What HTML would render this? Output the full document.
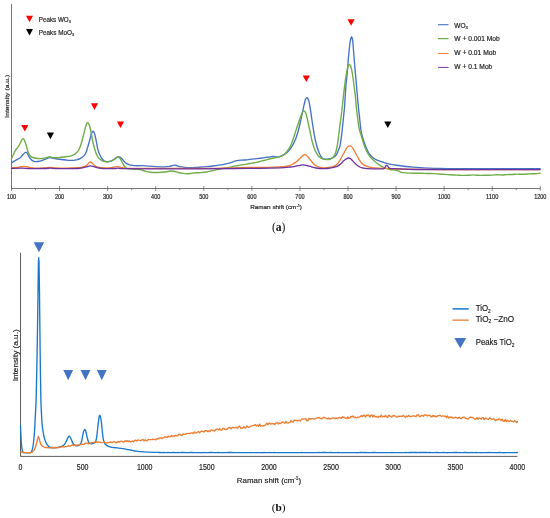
<!DOCTYPE html>
<html lang="en"><head><meta charset="utf-8"><title>Raman spectra</title>
<style>html,body{margin:0;padding:0;background:#fff}svg{display:block}text{font-family:"Liberation Sans",sans-serif;fill:#222222;stroke:#222222;stroke-width:0.18px}.cap{font-family:"Liberation Serif",serif;fill:#111;stroke:none}.ln{fill:none;stroke-linejoin:round;stroke-linecap:round}</style></head><body>
<svg width="550" height="518" viewBox="0 0 550 518">
<rect width="550" height="518" fill="#fff"/>
<g id="chart-a">
<path d="M11.50 3.90V188.50H540.30" fill="none" stroke="#666666" stroke-width="0.9"/>
<path d="M11.50 186.10v4.70M35.54 188.50v1.60M59.57 186.10v4.70M83.61 188.50v1.60M107.65 186.10v4.70M131.68 188.50v1.60M155.72 186.10v4.70M179.75 188.50v1.60M203.79 186.10v4.70M227.83 188.50v1.60M251.86 186.10v4.70M275.90 188.50v1.60M299.94 186.10v4.70M323.97 188.50v1.60M348.01 186.10v4.70M372.05 188.50v1.60M396.08 186.10v4.70M420.12 188.50v1.60M444.15 186.10v4.70M468.19 188.50v1.60M492.23 186.10v4.70M516.26 188.50v1.60M540.30 186.10v4.70" fill="none" stroke="#666666" stroke-width="0.8"/>
<text x="11.50" y="198.8" font-size="6.4" text-anchor="middle" textLength="9.24" lengthAdjust="spacingAndGlyphs">100</text>
<text x="59.57" y="198.8" font-size="6.4" text-anchor="middle" textLength="9.24" lengthAdjust="spacingAndGlyphs">200</text>
<text x="107.65" y="198.8" font-size="6.4" text-anchor="middle" textLength="9.24" lengthAdjust="spacingAndGlyphs">300</text>
<text x="155.72" y="198.8" font-size="6.4" text-anchor="middle" textLength="9.24" lengthAdjust="spacingAndGlyphs">400</text>
<text x="203.79" y="198.8" font-size="6.4" text-anchor="middle" textLength="9.24" lengthAdjust="spacingAndGlyphs">500</text>
<text x="251.86" y="198.8" font-size="6.4" text-anchor="middle" textLength="9.24" lengthAdjust="spacingAndGlyphs">600</text>
<text x="299.94" y="198.8" font-size="6.4" text-anchor="middle" textLength="9.24" lengthAdjust="spacingAndGlyphs">700</text>
<text x="348.01" y="198.8" font-size="6.4" text-anchor="middle" textLength="9.24" lengthAdjust="spacingAndGlyphs">800</text>
<text x="396.08" y="198.8" font-size="6.4" text-anchor="middle" textLength="9.24" lengthAdjust="spacingAndGlyphs">900</text>
<text x="444.15" y="198.8" font-size="6.4" text-anchor="middle" textLength="12.32" lengthAdjust="spacingAndGlyphs">1000</text>
<text x="492.23" y="198.8" font-size="6.4" text-anchor="middle" textLength="12.32" lengthAdjust="spacingAndGlyphs">1100</text>
<text x="540.30" y="198.8" font-size="6.4" text-anchor="middle" textLength="12.32" lengthAdjust="spacingAndGlyphs">1200</text>
<text x="276.1" y="208.9" font-size="6.2" text-anchor="middle" textLength="51.8" lengthAdjust="spacingAndGlyphs">Raman shift (cm<tspan font-size="3.8" dy="-2.2">-1</tspan><tspan dy="2.2">)</tspan></text>
<text transform="translate(8.6 117.7) rotate(-90)" font-size="5.6" textLength="42.9" lengthAdjust="spacingAndGlyphs">Intensity  (a.u.)</text>
<path class="ln" d="M11.50 162.90C12.18 162.47 14.27 161.07 15.60 160.30C16.93 159.53 18.52 158.95 19.50 158.30C20.48 157.65 20.87 157.08 21.50 156.40C22.13 155.72 22.73 154.80 23.30 154.20C23.87 153.60 24.42 153.12 24.90 152.80C25.38 152.48 25.80 152.20 26.20 152.30C26.60 152.40 26.93 152.87 27.30 153.40C27.67 153.93 27.97 154.73 28.40 155.50C28.83 156.27 29.38 157.27 29.90 158.00C30.42 158.73 30.70 159.30 31.50 159.90C32.30 160.50 33.32 161.38 34.70 161.60C36.08 161.82 38.10 161.58 39.80 161.20C41.50 160.82 43.20 159.88 44.90 159.30C46.60 158.72 48.73 157.88 50.00 157.70C51.27 157.52 51.65 158.05 52.50 158.20C53.35 158.35 53.60 158.38 55.10 158.60C56.60 158.82 59.17 159.22 61.50 159.50C63.83 159.78 67.18 160.15 69.10 160.30C71.02 160.45 71.77 160.47 73.00 160.40C74.23 160.33 75.10 160.33 76.50 159.90C77.90 159.47 80.07 158.60 81.40 157.80C82.73 157.00 83.70 156.07 84.50 155.10C85.30 154.13 85.70 153.22 86.20 152.00C86.70 150.78 87.03 149.33 87.50 147.80C87.97 146.27 88.52 144.50 89.00 142.80C89.48 141.10 90.00 139.10 90.40 137.60C90.80 136.10 91.08 134.77 91.40 133.80C91.72 132.83 92.02 132.22 92.30 131.80C92.58 131.38 92.80 131.20 93.10 131.30C93.40 131.40 93.77 131.68 94.10 132.40C94.43 133.12 94.70 133.93 95.10 135.60C95.50 137.27 96.03 140.07 96.50 142.40C96.97 144.73 97.35 147.53 97.90 149.60C98.45 151.67 99.15 153.32 99.80 154.80C100.45 156.28 101.10 157.50 101.80 158.50C102.50 159.50 103.15 160.25 104.00 160.80C104.85 161.35 105.90 161.70 106.90 161.80C107.90 161.90 108.93 161.73 110.00 161.40C111.07 161.07 112.30 160.40 113.30 159.80C114.30 159.20 115.15 158.30 116.00 157.80C116.85 157.30 117.67 156.87 118.40 156.80C119.13 156.73 119.77 157.03 120.40 157.40C121.03 157.77 121.60 158.37 122.20 159.00C122.80 159.63 123.37 160.52 124.00 161.20C124.63 161.88 125.17 162.53 126.00 163.10C126.83 163.67 127.93 164.22 129.00 164.60C130.07 164.98 131.23 165.22 132.40 165.40C133.57 165.58 134.73 165.65 136.00 165.70C137.27 165.75 138.33 165.68 140.00 165.70C141.67 165.72 143.42 165.63 146.00 165.80C148.58 165.97 152.33 166.53 155.50 166.70C158.67 166.87 162.58 166.87 165.00 166.80C167.42 166.73 168.42 166.57 170.00 166.30C171.58 166.03 173.33 165.30 174.50 165.20C175.67 165.10 176.15 165.45 177.00 165.70C177.85 165.95 178.27 166.42 179.60 166.70C180.93 166.98 183.10 167.23 185.00 167.40C186.90 167.57 188.83 167.72 191.00 167.70C193.17 167.68 195.43 167.47 198.00 167.30C200.57 167.13 203.90 166.92 206.40 166.70C208.90 166.48 210.90 166.25 213.00 166.00C215.10 165.75 217.17 165.48 219.00 165.20C220.83 164.92 222.28 164.65 224.00 164.30C225.72 163.95 227.80 163.52 229.30 163.10C230.80 162.68 231.73 162.22 233.00 161.80C234.27 161.38 235.40 160.88 236.90 160.60C238.40 160.32 240.32 160.23 242.00 160.10C243.68 159.97 245.33 159.95 247.00 159.80C248.67 159.65 250.28 159.40 252.00 159.20C253.72 159.00 255.63 158.80 257.30 158.60C258.97 158.40 260.55 158.20 262.00 158.00C263.45 157.80 264.63 157.60 266.00 157.40C267.37 157.20 269.03 156.95 270.20 156.80C271.37 156.65 272.12 156.48 273.00 156.50C273.88 156.52 274.67 156.80 275.50 156.90C276.33 157.00 277.17 157.20 278.00 157.10C278.83 157.00 279.67 156.63 280.50 156.30C281.33 155.97 282.17 155.55 283.00 155.10C283.83 154.65 284.62 154.22 285.50 153.60C286.38 152.98 287.35 152.38 288.30 151.40C289.25 150.42 290.32 149.02 291.20 147.70C292.08 146.38 292.80 145.12 293.60 143.50C294.40 141.88 295.23 140.08 296.00 138.00C296.77 135.92 297.48 133.58 298.20 131.00C298.92 128.42 299.70 125.08 300.30 122.50C300.90 119.92 301.32 117.77 301.80 115.50C302.28 113.23 302.77 110.90 303.20 108.90C303.63 106.90 304.02 105.10 304.40 103.50C304.78 101.90 305.18 100.22 305.50 99.30C305.82 98.38 306.05 98.27 306.30 98.00C306.55 97.73 306.73 97.60 307.00 97.70C307.27 97.80 307.58 98.02 307.90 98.60C308.22 99.18 308.57 99.92 308.90 101.20C309.23 102.48 309.57 104.37 309.90 106.30C310.23 108.23 310.55 110.47 310.90 112.80C311.25 115.13 311.62 117.73 312.00 120.30C312.38 122.87 312.80 125.70 313.20 128.20C313.60 130.70 313.98 133.05 314.40 135.30C314.82 137.55 315.25 139.75 315.70 141.70C316.15 143.65 316.62 145.38 317.10 147.00C317.58 148.62 318.12 150.12 318.60 151.40C319.08 152.68 319.52 153.73 320.00 154.70C320.48 155.67 321.00 156.55 321.50 157.20C322.00 157.85 322.45 158.28 323.00 158.60C323.55 158.92 323.88 159.05 324.80 159.10C325.72 159.15 327.28 159.07 328.50 158.90C329.72 158.73 331.15 158.42 332.10 158.10C333.05 157.78 333.55 157.48 334.20 157.00C334.85 156.52 335.53 155.77 336.00 155.20C336.47 154.63 336.68 154.23 337.00 153.60C337.32 152.97 337.57 152.22 337.90 151.40C338.23 150.58 338.65 149.67 339.00 148.70C339.35 147.73 339.65 147.22 340.00 145.60C340.35 143.98 340.73 141.60 341.10 139.00C341.47 136.40 341.83 133.25 342.20 130.00C342.57 126.75 342.92 123.30 343.30 119.50C343.68 115.70 344.18 111.03 344.50 107.20C344.82 103.37 344.97 100.03 345.20 96.50C345.43 92.97 345.67 88.92 345.90 86.00C346.13 83.08 346.37 81.25 346.60 79.00C346.83 76.75 347.08 74.92 347.30 72.50C347.52 70.08 347.70 67.08 347.90 64.50C348.10 61.92 348.28 59.42 348.50 57.00C348.72 54.58 348.97 52.25 349.20 50.00C349.43 47.75 349.65 45.33 349.90 43.50C350.15 41.67 350.42 40.15 350.70 39.00C350.98 37.85 351.32 36.60 351.60 36.60C351.88 36.60 352.17 37.85 352.40 39.00C352.63 40.15 352.82 41.58 353.00 43.50C353.18 45.42 353.30 47.92 353.50 50.50C353.70 53.08 353.98 56.33 354.20 59.00C354.42 61.67 354.58 63.93 354.80 66.50C355.02 69.07 355.25 71.65 355.50 74.40C355.75 77.15 356.05 80.10 356.30 83.00C356.55 85.90 356.75 88.88 357.00 91.80C357.25 94.72 357.53 97.62 357.80 100.50C358.07 103.38 358.35 106.65 358.60 109.10C358.85 111.55 359.08 113.27 359.30 115.20C359.52 117.13 359.63 118.23 359.90 120.70C360.17 123.17 360.45 127.20 360.90 130.00C361.35 132.80 361.98 135.23 362.60 137.50C363.22 139.77 363.87 141.58 364.60 143.60C365.33 145.62 366.23 147.93 367.00 149.60C367.77 151.27 368.28 152.33 369.20 153.60C370.12 154.87 371.28 156.15 372.50 157.20C373.72 158.25 375.17 159.22 376.50 159.90C377.83 160.58 379.13 160.80 380.50 161.30C381.87 161.80 383.45 162.50 384.70 162.90C385.95 163.30 386.72 163.42 388.00 163.70C389.28 163.98 390.62 164.30 392.40 164.60C394.18 164.90 396.43 165.18 398.70 165.50C400.97 165.82 403.57 166.22 406.00 166.50C408.43 166.78 410.97 167.00 413.30 167.20C415.63 167.40 417.58 167.55 420.00 167.70C422.42 167.85 424.80 167.97 427.80 168.10C430.80 168.23 434.60 168.40 438.00 168.50C441.40 168.60 442.87 168.66 448.20 168.70C453.53 168.74 461.37 168.75 470.00 168.75C478.63 168.75 488.32 168.72 500.00 168.70C511.68 168.67 533.42 168.62 540.10 168.60" stroke="#4472C4" stroke-width="1.35"/>
<path class="ln" d="M11.50 158.80C11.75 158.25 12.52 156.58 13.00 155.50C13.48 154.42 13.90 153.30 14.40 152.30C14.90 151.30 15.48 150.25 16.00 149.50C16.52 148.75 17.00 148.47 17.50 147.80C18.00 147.13 18.47 146.45 19.00 145.50C19.53 144.55 20.20 143.07 20.70 142.10C21.20 141.13 21.57 140.28 22.00 139.70C22.43 139.12 22.88 138.47 23.30 138.60C23.72 138.73 24.08 139.60 24.50 140.50C24.92 141.40 25.38 142.67 25.80 144.00C26.22 145.33 26.57 147.02 27.00 148.50C27.43 149.98 27.90 151.73 28.40 152.90C28.90 154.07 29.48 154.82 30.00 155.50C30.52 156.18 30.50 156.53 31.50 157.00C32.50 157.47 34.42 158.03 36.00 158.30C37.58 158.57 39.30 158.70 41.00 158.60C42.70 158.50 44.70 158.02 46.20 157.70C47.70 157.38 48.95 156.72 50.00 156.70C51.05 156.68 51.00 157.45 52.50 157.60C54.00 157.75 56.87 157.75 59.00 157.60C61.13 157.45 63.40 156.95 65.30 156.70C67.20 156.45 68.92 156.48 70.40 156.10C71.88 155.72 73.17 154.97 74.20 154.40C75.23 153.83 75.80 153.52 76.60 152.70C77.40 151.88 78.20 151.07 79.00 149.50C79.80 147.93 80.65 145.72 81.40 143.30C82.15 140.88 82.85 137.55 83.50 135.00C84.15 132.45 84.78 129.87 85.30 128.00C85.82 126.13 86.22 124.73 86.60 123.80C86.98 122.87 87.25 122.40 87.60 122.40C87.95 122.40 88.33 123.08 88.70 123.80C89.07 124.52 89.35 125.00 89.80 126.70C90.25 128.40 90.88 131.45 91.40 134.00C91.92 136.55 92.33 139.42 92.90 142.00C93.47 144.58 94.17 147.38 94.80 149.50C95.43 151.62 96.00 153.22 96.70 154.70C97.40 156.18 98.15 157.42 99.00 158.40C99.85 159.38 100.80 160.07 101.80 160.60C102.80 161.13 103.93 161.40 105.00 161.60C106.07 161.80 107.12 161.92 108.20 161.80C109.28 161.68 110.45 161.32 111.50 160.90C112.55 160.48 113.70 159.80 114.50 159.30C115.30 158.80 115.75 158.28 116.30 157.90C116.85 157.52 117.28 157.03 117.80 157.00C118.32 156.97 118.88 157.23 119.40 157.70C119.92 158.17 120.33 158.83 120.90 159.80C121.47 160.77 122.17 162.35 122.80 163.50C123.43 164.65 123.95 165.83 124.70 166.70C125.45 167.57 126.42 168.33 127.30 168.70C128.18 169.07 128.72 168.82 130.00 168.90C131.28 168.98 133.33 169.08 135.00 169.20C136.67 169.32 138.28 169.25 140.00 169.60C141.72 169.95 143.63 170.87 145.30 171.30C146.97 171.73 147.88 172.00 150.00 172.20C152.12 172.40 155.50 172.53 158.00 172.50C160.50 172.47 162.88 172.25 165.00 172.00C167.12 171.75 169.20 171.12 170.70 171.00C172.20 170.88 172.72 171.05 174.00 171.30C175.28 171.55 176.90 172.15 178.40 172.50C179.90 172.85 181.52 173.18 183.00 173.40C184.48 173.62 185.80 173.82 187.30 173.80C188.80 173.78 190.55 173.47 192.00 173.30C193.45 173.13 194.50 172.92 196.00 172.80C197.50 172.68 199.27 172.73 201.00 172.60C202.73 172.47 204.57 172.30 206.40 172.00C208.23 171.70 209.90 171.27 212.00 170.80C214.10 170.33 217.00 169.62 219.00 169.20C221.00 168.78 222.28 168.60 224.00 168.30C225.72 168.00 227.80 167.72 229.30 167.40C230.80 167.08 231.72 166.68 233.00 166.40C234.28 166.12 235.50 165.95 237.00 165.70C238.50 165.45 240.33 165.17 242.00 164.90C243.67 164.63 245.33 164.40 247.00 164.10C248.67 163.80 250.28 163.43 252.00 163.10C253.72 162.77 255.97 162.38 257.30 162.10C258.63 161.82 258.72 161.72 260.00 161.40C261.28 161.08 263.30 160.63 265.00 160.20C266.70 159.77 268.53 159.18 270.20 158.80C271.87 158.42 273.53 158.22 275.00 157.90C276.47 157.58 277.83 157.23 279.00 156.90C280.17 156.57 281.08 156.35 282.00 155.90C282.92 155.45 283.73 154.87 284.50 154.20C285.27 153.53 285.92 152.73 286.60 151.90C287.28 151.07 287.93 150.22 288.60 149.20C289.27 148.18 289.87 147.42 290.60 145.80C291.33 144.18 292.20 141.78 293.00 139.50C293.80 137.22 294.67 134.35 295.40 132.10C296.13 129.85 296.75 127.93 297.40 126.00C298.05 124.07 298.73 122.13 299.30 120.50C299.87 118.87 300.32 117.48 300.80 116.20C301.28 114.92 301.80 113.60 302.20 112.80C302.60 112.00 302.88 111.72 303.20 111.40C303.52 111.08 303.80 110.87 304.10 110.90C304.40 110.93 304.68 111.12 305.00 111.60C305.32 112.08 305.60 112.52 306.00 113.80C306.40 115.08 306.92 117.22 307.40 119.30C307.88 121.38 308.40 123.95 308.90 126.30C309.40 128.65 309.92 131.15 310.40 133.40C310.88 135.65 311.33 137.87 311.80 139.80C312.27 141.73 312.72 143.38 313.20 145.00C313.68 146.62 314.15 148.13 314.70 149.50C315.25 150.87 315.85 152.08 316.50 153.20C317.15 154.32 317.85 155.38 318.60 156.20C319.35 157.02 320.20 157.62 321.00 158.10C321.80 158.58 322.52 158.85 323.40 159.10C324.28 159.35 325.33 159.53 326.30 159.60C327.27 159.67 328.28 159.70 329.20 159.50C330.12 159.30 331.00 158.95 331.80 158.40C332.60 157.85 333.37 157.17 334.00 156.20C334.63 155.23 335.12 154.05 335.60 152.60C336.08 151.15 336.52 149.35 336.90 147.50C337.28 145.65 337.57 143.75 337.90 141.50C338.23 139.25 338.55 136.85 338.90 134.00C339.25 131.15 339.55 127.90 340.00 124.40C340.45 120.90 341.02 117.80 341.60 113.00C342.18 108.20 342.87 101.07 343.50 95.60C344.13 90.13 344.90 83.90 345.40 80.20C345.90 76.50 346.17 75.33 346.50 73.40C346.83 71.47 347.08 69.92 347.40 68.60C347.72 67.28 348.08 66.20 348.40 65.50C348.72 64.80 348.97 64.38 349.30 64.40C349.63 64.42 350.02 64.73 350.40 65.60C350.78 66.47 351.23 68.03 351.60 69.60C351.97 71.17 352.27 72.92 352.60 75.00C352.93 77.08 353.12 78.33 353.60 82.10C354.08 85.87 355.05 93.45 355.50 97.60C355.95 101.75 356.00 104.10 356.30 107.00C356.60 109.90 356.97 112.33 357.30 115.00C357.63 117.67 357.93 120.50 358.30 123.00C358.67 125.50 358.92 127.58 359.50 130.00C360.08 132.42 361.10 135.17 361.80 137.50C362.50 139.83 363.00 141.95 363.70 144.00C364.40 146.05 365.18 148.03 366.00 149.80C366.82 151.57 367.77 153.30 368.60 154.60C369.43 155.90 370.18 156.67 371.00 157.60C371.82 158.53 372.60 159.35 373.50 160.20C374.40 161.05 375.32 161.85 376.40 162.70C377.48 163.55 378.80 164.53 380.00 165.30C381.20 166.07 382.43 166.73 383.60 167.30C384.77 167.87 385.93 168.33 387.00 168.70C388.07 169.07 388.92 169.30 390.00 169.50C391.08 169.70 392.40 169.78 393.50 169.90C394.60 170.02 395.68 169.98 396.60 170.20C397.52 170.42 398.23 170.83 399.00 171.20C399.77 171.57 400.03 172.12 401.20 172.40C402.37 172.68 403.98 172.77 406.00 172.90C408.02 173.03 410.97 173.13 413.30 173.20C415.63 173.27 417.58 173.25 420.00 173.30C422.42 173.35 425.30 173.45 427.80 173.50C430.30 173.55 432.57 173.48 435.00 173.60C437.43 173.72 439.90 174.00 442.40 174.20C444.90 174.40 447.58 174.65 450.00 174.80C452.42 174.95 454.90 175.00 456.90 175.10C458.90 175.20 460.07 175.37 462.00 175.40C463.93 175.43 466.67 175.38 468.50 175.30C470.33 175.22 471.42 174.90 473.00 174.90C474.58 174.90 476.00 175.23 478.00 175.30C480.00 175.37 482.70 175.33 485.00 175.30C487.30 175.27 489.80 175.20 491.80 175.10C493.80 175.00 495.30 174.72 497.00 174.70C498.70 174.68 500.33 175.02 502.00 175.00C503.67 174.98 505.30 174.68 507.00 174.60C508.70 174.52 510.53 174.58 512.20 174.50C513.87 174.42 515.20 174.13 517.00 174.10C518.80 174.07 520.90 174.33 523.00 174.30C525.10 174.27 527.60 174.00 529.60 173.90C531.60 173.80 533.25 173.80 535.00 173.70C536.75 173.60 539.25 173.37 540.10 173.30" stroke="#70AD47" stroke-width="1.4"/>
<path class="ln" d="M11.50 167.75C12.42 167.70 15.42 167.62 17.00 167.45C18.58 167.28 19.80 166.92 21.00 166.75C22.20 166.58 23.20 166.45 24.20 166.45C25.20 166.45 26.03 166.53 27.00 166.75C27.97 166.97 28.50 167.52 30.00 167.75C31.50 167.98 33.50 168.13 36.00 168.15C38.50 168.17 42.67 167.97 45.00 167.85C47.33 167.73 48.17 167.45 50.00 167.45C51.83 167.45 53.50 167.75 56.00 167.85C58.50 167.95 61.33 168.08 65.00 168.05C68.67 168.02 75.17 167.78 78.00 167.65C80.83 167.52 80.92 167.43 82.00 167.25C83.08 167.07 83.67 166.94 84.50 166.55C85.33 166.16 86.22 165.54 87.00 164.90C87.78 164.26 88.62 163.18 89.20 162.70C89.78 162.22 90.07 162.00 90.50 162.00C90.93 162.00 91.22 162.20 91.80 162.70C92.38 163.20 93.23 164.34 94.00 165.00C94.77 165.66 95.57 166.24 96.40 166.65C97.23 167.06 97.07 167.23 99.00 167.45C100.93 167.67 105.67 167.97 108.00 167.95C110.33 167.93 111.50 167.58 113.00 167.35C114.50 167.12 115.83 166.58 117.00 166.55C118.17 166.52 118.83 166.90 120.00 167.15C121.17 167.40 122.00 167.85 124.00 168.05C126.00 168.25 127.67 168.30 132.00 168.35C136.33 168.40 142.00 168.33 150.00 168.35C158.00 168.37 170.83 168.43 180.00 168.45C189.17 168.47 198.50 168.48 205.00 168.45C211.50 168.42 214.00 168.35 219.00 168.25C224.00 168.15 229.83 167.98 235.00 167.85C240.17 167.72 245.50 167.52 250.00 167.45C254.50 167.38 257.83 167.50 262.00 167.45C266.17 167.40 271.08 167.32 275.00 167.15C278.92 166.98 282.83 166.81 285.50 166.45C288.17 166.09 289.32 165.68 291.00 165.00C292.68 164.32 294.27 163.35 295.60 162.40C296.93 161.45 297.93 160.28 299.00 159.30C300.07 158.32 301.20 157.20 302.00 156.50C302.80 155.80 303.30 155.40 303.80 155.10C304.30 154.80 304.55 154.65 305.00 154.70C305.45 154.75 305.93 154.97 306.50 155.40C307.07 155.83 307.58 156.32 308.40 157.30C309.22 158.28 310.35 160.03 311.40 161.30C312.45 162.57 313.60 163.99 314.70 164.90C315.80 165.81 316.72 166.28 318.00 166.75C319.28 167.22 320.90 167.60 322.40 167.75C323.90 167.90 325.57 167.77 327.00 167.65C328.43 167.53 329.87 167.25 331.00 167.05C332.13 166.85 332.80 166.91 333.80 166.45C334.80 165.99 335.93 165.41 337.00 164.30C338.07 163.19 339.13 161.52 340.20 159.80C341.27 158.08 342.35 155.90 343.40 154.00C344.45 152.10 345.68 149.68 346.50 148.40C347.32 147.12 347.75 146.73 348.30 146.30C348.85 145.87 349.25 145.75 349.80 145.80C350.35 145.85 350.95 145.97 351.60 146.60C352.25 147.23 352.90 148.23 353.70 149.60C354.50 150.97 355.47 153.10 356.40 154.80C357.33 156.50 358.32 158.30 359.30 159.80C360.28 161.30 361.25 162.78 362.30 163.80C363.35 164.83 364.40 165.39 365.60 165.95C366.80 166.51 368.02 166.83 369.50 167.15C370.98 167.47 372.08 167.63 374.50 167.85C376.92 168.07 379.75 168.26 384.00 168.45C388.25 168.64 394.00 168.84 400.00 169.00C406.00 169.16 411.67 169.30 420.00 169.40C428.33 169.50 429.98 169.57 450.00 169.60C470.02 169.63 525.08 169.60 540.10 169.60" stroke="#ED7D31" stroke-width="1.3"/>
<path class="ln" d="M11.50 168.40C13.25 168.35 18.92 168.07 22.00 168.10C25.08 168.13 26.17 168.53 30.00 168.60C33.83 168.67 41.67 168.58 45.00 168.50C48.33 168.42 47.83 168.08 50.00 168.10C52.17 168.12 53.83 168.52 58.00 168.60C62.17 168.68 71.00 168.72 75.00 168.60C79.00 168.48 80.00 168.22 82.00 167.90C84.00 167.58 85.60 167.03 87.00 166.70C88.40 166.37 89.23 165.90 90.40 165.90C91.57 165.90 92.73 166.37 94.00 166.70C95.27 167.03 96.33 167.58 98.00 167.90C99.67 168.22 101.33 168.50 104.00 168.60C106.67 168.70 111.67 168.57 114.00 168.50C116.33 168.43 116.33 168.17 118.00 168.20C119.67 168.23 118.67 168.58 124.00 168.70C129.33 168.82 137.33 168.87 150.00 168.90C162.67 168.93 185.83 168.97 200.00 168.90C214.17 168.83 225.00 168.58 235.00 168.50C245.00 168.42 252.50 168.52 260.00 168.40C267.50 168.28 275.00 168.03 280.00 167.80C285.00 167.57 287.40 167.27 290.00 167.00C292.60 166.73 293.93 166.48 295.60 166.20C297.27 165.92 298.72 165.52 300.00 165.30C301.28 165.08 302.13 164.85 303.30 164.90C304.47 164.95 305.72 165.30 307.00 165.60C308.28 165.90 309.50 166.30 311.00 166.70C312.50 167.10 313.90 167.67 316.00 168.00C318.10 168.33 321.27 168.67 323.60 168.70C325.93 168.73 327.87 168.53 330.00 168.20C332.13 167.87 334.65 167.40 336.40 166.70C338.15 166.00 339.23 165.02 340.50 164.00C341.77 162.98 342.95 161.50 344.00 160.60C345.05 159.70 346.03 159.03 346.80 158.60C347.57 158.17 347.97 157.97 348.60 158.00C349.23 158.03 349.88 158.28 350.60 158.80C351.32 159.32 352.00 160.18 352.90 161.10C353.80 162.02 354.93 163.37 356.00 164.30C357.07 165.23 358.13 166.08 359.30 166.70C360.47 167.32 361.72 167.67 363.00 168.00C364.28 168.33 364.83 168.55 367.00 168.70C369.17 168.85 373.27 168.88 376.00 168.90C378.73 168.92 381.93 169.02 383.40 168.80C384.87 168.58 384.40 168.07 384.80 167.60C385.20 167.13 385.48 166.37 385.80 166.00C386.12 165.63 386.40 165.40 386.70 165.40C387.00 165.40 387.28 165.67 387.60 166.00C387.92 166.33 388.23 167.00 388.60 167.40C388.97 167.80 389.07 168.20 389.80 168.40C390.53 168.60 391.30 168.52 393.00 168.60C394.70 168.68 395.50 168.75 400.00 168.90C404.50 169.05 411.67 169.37 420.00 169.50C428.33 169.63 429.98 169.67 450.00 169.70C470.02 169.73 525.08 169.70 540.10 169.70" stroke="#7030A0" stroke-width="1.3"/>
<path d="M21.20 125.00h7.20l-3.60 6.60z" fill="#FF0000"/>
<path d="M90.90 103.30h7.20l-3.60 6.60z" fill="#FF0000"/>
<path d="M116.90 121.50h7.20l-3.60 6.60z" fill="#FF0000"/>
<path d="M302.70 75.40h7.20l-3.60 6.60z" fill="#FF0000"/>
<path d="M347.50 19.20h7.20l-3.60 6.60z" fill="#FF0000"/>
<path d="M46.80 132.60h7.20l-3.60 6.60z" fill="#000"/>
<path d="M384.20 121.50h7.20l-3.60 6.60z" fill="#000"/>
<path d="M26.00 15.80h7.00l-3.50 6.50z" fill="#FF0000"/>
<path d="M26.00 29.00h7.00l-3.50 6.50z" fill="#000"/>
<text x="38.7" y="21.8" font-size="6.6" textLength="32.3" lengthAdjust="spacingAndGlyphs">Peaks WO<tspan font-size="4.2" dy="1.3">3</tspan></text>
<text x="38.7" y="34.6" font-size="6.6" textLength="35.6" lengthAdjust="spacingAndGlyphs">Peaks MoO<tspan font-size="4.2" dy="1.3">3</tspan></text>
<path d="M438 24.70H448.6" stroke="#4472C4" stroke-width="1.10" fill="none"/>
<path d="M438 38.60H448.6" stroke="#70AD47" stroke-width="1.25" fill="none"/>
<path d="M438 53.45H448.6" stroke="#ED7D31" stroke-width="1.00" fill="none"/>
<path d="M438 67.40H448.6" stroke="#7030A0" stroke-width="0.95" fill="none"/>
<text x="454.3" y="27.8" font-size="6.4" textLength="13.5" lengthAdjust="spacingAndGlyphs">WO<tspan font-size="4.1" dy="1.3">3</tspan></text>
<text x="454.3" y="40.9" font-size="6.4" textLength="45.5" lengthAdjust="spacingAndGlyphs">W + 0.001 Mob</text>
<text x="454.3" y="55.0" font-size="6.4" textLength="41.9" lengthAdjust="spacingAndGlyphs">W + 0.01 Mob</text>
<text x="454.3" y="69.1" font-size="6.4" textLength="38.0" lengthAdjust="spacingAndGlyphs">W + 0.1 Mob</text>
</g>
<text class="cap" x="278.7" y="231.1" font-size="11.6" text-anchor="middle">(<tspan font-weight="bold">a</tspan>)</text>
<g id="chart-b">
<path d="M20.50 252.80V456.40H517.40" fill="none" stroke="#4a4a4a" stroke-width="0.9"/>
<text x="20.50" y="469.9" font-size="8.3" text-anchor="middle" textLength="3.90" lengthAdjust="spacingAndGlyphs">0</text>
<text x="82.61" y="469.9" font-size="8.3" text-anchor="middle" textLength="11.70" lengthAdjust="spacingAndGlyphs">500</text>
<text x="144.72" y="469.9" font-size="8.3" text-anchor="middle" textLength="15.60" lengthAdjust="spacingAndGlyphs">1000</text>
<text x="206.84" y="469.9" font-size="8.3" text-anchor="middle" textLength="15.60" lengthAdjust="spacingAndGlyphs">1500</text>
<text x="268.95" y="469.9" font-size="8.3" text-anchor="middle" textLength="15.60" lengthAdjust="spacingAndGlyphs">2000</text>
<text x="331.06" y="469.9" font-size="8.3" text-anchor="middle" textLength="15.60" lengthAdjust="spacingAndGlyphs">2500</text>
<text x="393.17" y="469.9" font-size="8.3" text-anchor="middle" textLength="15.60" lengthAdjust="spacingAndGlyphs">3000</text>
<text x="455.29" y="469.9" font-size="8.3" text-anchor="middle" textLength="15.60" lengthAdjust="spacingAndGlyphs">3500</text>
<text x="517.40" y="469.9" font-size="8.3" text-anchor="middle" textLength="15.60" lengthAdjust="spacingAndGlyphs">4000</text>
<text x="269" y="482.8" font-size="8" text-anchor="middle" textLength="64.3" lengthAdjust="spacingAndGlyphs">Raman shift (cm<tspan font-size="4.8" dy="-2.8">-1</tspan><tspan dy="2.8">)</tspan></text>
<text transform="translate(17.5 381.3) rotate(-90)" font-size="7.4" textLength="52" lengthAdjust="spacingAndGlyphs">Intensity (a.u.)</text>
<path class="ln" d="M20.50 425.50C20.59 427.58 20.85 434.50 21.05 438.00C21.25 441.50 21.48 444.35 21.70 446.50C21.92 448.65 22.15 449.93 22.40 450.90C22.65 451.87 22.90 452.00 23.20 452.30C23.50 452.60 23.57 452.62 24.20 452.70C24.83 452.78 25.95 452.80 27.00 452.80C28.05 452.80 29.73 452.93 30.50 452.70C31.27 452.47 31.25 452.12 31.60 451.40C31.95 450.68 32.28 449.88 32.60 448.40C32.92 446.92 33.20 445.05 33.50 442.50C33.80 439.95 34.12 437.02 34.40 433.10C34.68 429.18 34.92 424.52 35.20 419.00C35.48 413.48 35.83 408.17 36.10 400.00C36.37 391.83 36.57 381.67 36.80 370.00C37.03 358.33 37.29 343.33 37.50 330.00C37.71 316.67 37.92 299.67 38.05 290.00C38.18 280.33 38.22 276.75 38.30 272.00C38.38 267.25 38.42 263.95 38.50 261.50C38.58 259.05 38.67 257.30 38.75 257.30C38.83 257.30 38.92 259.05 39.00 261.50C39.08 263.95 39.12 267.25 39.20 272.00C39.28 276.75 39.33 280.33 39.45 290.00C39.57 299.67 39.74 316.33 39.90 330.00C40.06 343.67 40.23 360.33 40.40 372.00C40.57 383.67 40.72 393.00 40.90 400.00C41.08 407.00 41.32 410.18 41.50 414.00C41.68 417.82 41.77 420.15 42.00 422.90C42.23 425.65 42.60 428.38 42.90 430.50C43.20 432.62 43.48 434.12 43.80 435.60C44.12 437.08 44.47 438.33 44.80 439.40C45.13 440.47 45.35 441.03 45.80 442.00C46.25 442.97 46.87 444.35 47.50 445.20C48.13 446.05 48.85 446.67 49.60 447.10C50.35 447.53 51.15 447.68 52.00 447.80C52.85 447.92 53.70 447.88 54.70 447.80C55.70 447.72 56.93 447.50 58.00 447.30C59.07 447.10 60.23 446.88 61.10 446.60C61.97 446.32 62.57 446.07 63.20 445.60C63.83 445.13 64.38 444.52 64.90 443.80C65.42 443.08 65.88 442.15 66.30 441.30C66.72 440.45 67.05 439.45 67.40 438.70C67.75 437.95 68.10 437.23 68.40 436.80C68.70 436.37 68.92 436.07 69.20 436.10C69.48 436.13 69.75 436.45 70.10 437.00C70.45 437.55 70.90 438.50 71.30 439.40C71.70 440.30 72.08 441.55 72.50 442.40C72.92 443.25 73.28 443.97 73.80 444.50C74.32 445.03 74.97 445.38 75.60 445.60C76.23 445.82 76.97 445.90 77.60 445.80C78.23 445.70 78.85 445.42 79.40 445.00C79.95 444.58 80.48 444.13 80.90 443.30C81.32 442.47 81.60 441.28 81.90 440.00C82.20 438.72 82.40 437.03 82.70 435.60C83.00 434.17 83.35 432.42 83.70 431.40C84.05 430.38 84.47 429.57 84.80 429.50C85.13 429.43 85.42 430.18 85.70 431.00C85.98 431.82 86.20 433.10 86.50 434.40C86.80 435.70 87.15 437.53 87.50 438.80C87.85 440.07 88.18 441.22 88.60 442.00C89.02 442.78 89.50 443.20 90.00 443.50C90.50 443.80 91.00 443.85 91.60 443.80C92.20 443.75 92.97 443.50 93.60 443.20C94.23 442.90 94.93 442.78 95.40 442.00C95.87 441.22 96.10 439.98 96.40 438.50C96.70 437.02 96.93 435.27 97.20 433.10C97.47 430.93 97.73 427.83 98.00 425.50C98.27 423.17 98.57 420.68 98.80 419.10C99.03 417.52 99.23 416.63 99.40 416.00C99.57 415.37 99.63 415.20 99.80 415.30C99.97 415.40 100.15 415.55 100.40 416.60C100.65 417.65 101.00 419.37 101.30 421.60C101.60 423.83 101.90 427.23 102.20 430.00C102.50 432.77 102.77 436.17 103.10 438.20C103.43 440.23 103.78 441.15 104.20 442.20C104.62 443.25 104.97 443.83 105.60 444.50C106.23 445.17 107.15 445.77 108.00 446.20C108.85 446.63 109.70 446.87 110.70 447.10C111.70 447.33 112.93 447.48 114.00 447.60C115.07 447.72 115.93 447.68 117.10 447.80C118.27 447.92 119.73 448.12 121.00 448.30C122.27 448.48 123.45 448.67 124.70 448.90C125.95 449.13 127.22 449.45 128.50 449.70C129.78 449.95 131.15 450.15 132.40 450.40C133.65 450.65 134.73 450.98 136.00 451.20C137.27 451.42 138.00 451.53 140.00 451.70C142.00 451.87 144.67 452.07 148.00 452.20C151.33 452.33 157.67 452.44 160.00 452.50C162.33 452.56 161.33 452.56 162.00 452.56C162.67 452.57 163.33 452.52 164.00 452.53C164.67 452.54 165.33 452.63 166.00 452.63C166.67 452.63 167.33 452.52 168.00 452.51C168.67 452.51 169.33 452.60 170.00 452.61C170.67 452.62 171.33 452.59 172.00 452.57C172.67 452.56 173.33 452.51 174.00 452.51C174.67 452.52 175.33 452.60 176.00 452.60C176.67 452.60 177.33 452.51 178.00 452.51C178.67 452.51 179.33 452.59 180.00 452.59C180.67 452.59 181.33 452.53 182.00 452.51C182.67 452.50 183.33 452.51 184.00 452.52C184.67 452.53 185.33 452.56 186.00 452.58C186.67 452.61 187.33 452.68 188.00 452.67C188.67 452.66 189.33 452.54 190.00 452.52C190.67 452.50 191.33 452.53 192.00 452.54C192.67 452.56 193.33 452.60 194.00 452.63C194.67 452.65 195.33 452.69 196.00 452.69C196.67 452.69 197.33 452.63 198.00 452.62C198.67 452.60 199.33 452.57 200.00 452.58C200.67 452.59 201.33 452.71 202.00 452.70C202.67 452.68 203.33 452.51 204.00 452.51C204.67 452.51 205.33 452.66 206.00 452.67C206.67 452.68 207.33 452.58 208.00 452.56C208.67 452.53 209.33 452.53 210.00 452.53C210.67 452.52 211.33 452.52 212.00 452.52C212.67 452.53 213.33 452.54 214.00 452.56C214.67 452.58 215.33 452.67 216.00 452.66C216.67 452.66 217.33 452.54 218.00 452.54C218.67 452.53 219.33 452.60 220.00 452.62C220.67 452.63 221.33 452.63 222.00 452.63C222.67 452.62 223.33 452.58 224.00 452.57C224.67 452.57 225.33 452.62 226.00 452.61C226.67 452.60 227.33 452.53 228.00 452.51C228.67 452.50 229.33 452.51 230.00 452.51C230.67 452.52 231.33 452.52 232.00 452.54C232.67 452.56 233.33 452.63 234.00 452.64C234.67 452.64 235.33 452.60 236.00 452.59C236.67 452.57 237.33 452.56 238.00 452.56C238.67 452.57 239.33 452.61 240.00 452.62C240.67 452.62 241.33 452.60 242.00 452.59C242.67 452.58 243.33 452.55 244.00 452.56C244.67 452.57 245.33 452.65 246.00 452.66C246.67 452.67 247.33 452.66 248.00 452.64C248.67 452.62 249.33 452.55 250.00 452.55C250.67 452.54 251.33 452.61 252.00 452.61C252.67 452.62 253.33 452.60 254.00 452.61C254.67 452.62 255.33 452.67 256.00 452.68C256.67 452.68 257.33 452.67 258.00 452.65C258.67 452.63 259.33 452.55 260.00 452.56C260.67 452.57 261.33 452.70 262.00 452.70C262.67 452.69 263.33 452.54 264.00 452.52C264.67 452.50 265.33 452.56 266.00 452.58C266.67 452.60 267.33 452.66 268.00 452.65C268.67 452.64 269.33 452.54 270.00 452.53C270.67 452.52 271.33 452.60 272.00 452.60C272.67 452.59 273.33 452.50 274.00 452.51C274.67 452.51 275.33 452.61 276.00 452.63C276.67 452.66 277.33 452.66 278.00 452.65C278.67 452.65 279.33 452.61 280.00 452.61C280.67 452.62 281.33 452.68 282.00 452.68C282.67 452.67 283.33 452.57 284.00 452.56C284.67 452.56 285.33 452.63 286.00 452.64C286.67 452.65 287.33 452.62 288.00 452.62C288.67 452.62 289.33 452.62 290.00 452.62C290.67 452.61 291.33 452.58 292.00 452.59C292.67 452.60 293.33 452.65 294.00 452.67C294.67 452.68 295.33 452.70 296.00 452.69C296.67 452.68 297.33 452.60 298.00 452.59C298.67 452.59 299.33 452.65 300.00 452.63C300.67 452.62 301.33 452.51 302.00 452.51C302.67 452.51 303.33 452.62 304.00 452.64C304.67 452.66 305.33 452.62 306.00 452.63C306.67 452.64 307.33 452.69 308.00 452.70C308.67 452.70 309.33 452.69 310.00 452.66C310.67 452.64 311.33 452.57 312.00 452.56C312.67 452.54 313.33 452.56 314.00 452.58C314.67 452.59 315.33 452.65 316.00 452.63C316.67 452.62 317.33 452.51 318.00 452.50C318.67 452.50 319.33 452.59 320.00 452.59C320.67 452.60 321.33 452.55 322.00 452.53C322.67 452.52 323.33 452.53 324.00 452.52C324.67 452.52 325.33 452.49 326.00 452.51C326.67 452.53 327.33 452.65 328.00 452.65C328.67 452.66 329.33 452.54 330.00 452.53C330.67 452.51 331.33 452.54 332.00 452.55C332.67 452.56 333.33 452.56 334.00 452.58C334.67 452.60 335.33 452.68 336.00 452.67C336.67 452.66 337.33 452.53 338.00 452.52C338.67 452.50 339.33 452.57 340.00 452.59C340.67 452.61 341.33 452.60 342.00 452.61C342.67 452.62 343.33 452.67 344.00 452.68C344.67 452.69 345.33 452.66 346.00 452.66C346.67 452.66 347.33 452.69 348.00 452.67C348.67 452.65 349.33 452.57 350.00 452.56C350.67 452.54 351.33 452.58 352.00 452.58C352.67 452.59 353.33 452.56 354.00 452.57C354.67 452.59 355.33 452.66 356.00 452.68C356.67 452.70 357.33 452.72 358.00 452.69C358.67 452.67 359.33 452.56 360.00 452.53C360.67 452.50 361.33 452.53 362.00 452.54C362.67 452.54 363.33 452.54 364.00 452.55C364.67 452.55 365.33 452.54 366.00 452.55C366.67 452.56 367.33 452.59 368.00 452.60C368.67 452.61 369.33 452.63 370.00 452.62C370.67 452.61 371.33 452.57 372.00 452.55C372.67 452.53 373.33 452.50 374.00 452.50C374.67 452.51 375.33 452.57 376.00 452.58C376.67 452.60 377.33 452.57 378.00 452.57C378.67 452.58 379.33 452.59 380.00 452.61C380.67 452.63 381.33 452.69 382.00 452.69C382.67 452.69 383.33 452.65 384.00 452.64C384.67 452.62 385.33 452.61 386.00 452.60C386.67 452.60 387.33 452.62 388.00 452.62C388.67 452.63 389.33 452.65 390.00 452.64C390.67 452.62 391.33 452.50 392.00 452.51C392.67 452.52 393.33 452.66 394.00 452.68C394.67 452.70 395.33 452.66 396.00 452.66C396.67 452.66 397.33 452.67 398.00 452.67C398.67 452.68 399.33 452.68 400.00 452.66C400.67 452.64 401.33 452.59 402.00 452.58C402.67 452.57 403.33 452.59 404.00 452.58C404.67 452.57 405.33 452.51 406.00 452.52C406.67 452.53 407.33 452.63 408.00 452.63C408.67 452.63 409.33 452.53 410.00 452.51C410.67 452.49 411.33 452.51 412.00 452.51C412.67 452.52 413.33 452.54 414.00 452.54C414.67 452.54 415.33 452.53 416.00 452.53C416.67 452.54 417.33 452.57 418.00 452.57C418.67 452.56 419.33 452.52 420.00 452.51C420.67 452.50 421.33 452.50 422.00 452.50C422.67 452.50 423.33 452.53 424.00 452.53C424.67 452.53 425.33 452.51 426.00 452.52C426.67 452.53 427.33 452.58 428.00 452.57C428.67 452.57 429.33 452.49 430.00 452.51C430.67 452.52 431.33 452.66 432.00 452.67C432.67 452.69 433.33 452.65 434.00 452.62C434.67 452.60 435.33 452.54 436.00 452.53C436.67 452.52 437.33 452.54 438.00 452.55C438.67 452.56 439.33 452.57 440.00 452.57C440.67 452.57 441.33 452.58 442.00 452.57C442.67 452.57 443.33 452.51 444.00 452.52C444.67 452.54 445.33 452.64 446.00 452.67C446.67 452.70 447.33 452.71 448.00 452.70C448.67 452.69 449.33 452.61 450.00 452.59C450.67 452.58 451.33 452.61 452.00 452.60C452.67 452.58 453.33 452.53 454.00 452.52C454.67 452.50 455.33 452.51 456.00 452.52C456.67 452.53 457.33 452.56 458.00 452.57C458.67 452.57 459.33 452.54 460.00 452.55C460.67 452.57 461.33 452.67 462.00 452.67C462.67 452.66 463.33 452.56 464.00 452.53C464.67 452.51 465.33 452.48 466.00 452.50C466.67 452.53 467.33 452.67 468.00 452.69C468.67 452.71 469.33 452.63 470.00 452.61C470.67 452.58 471.33 452.53 472.00 452.53C472.67 452.53 473.33 452.61 474.00 452.61C474.67 452.60 475.33 452.51 476.00 452.51C476.67 452.50 477.33 452.57 478.00 452.61C478.67 452.64 479.33 452.68 480.00 452.70C480.67 452.71 481.33 452.68 482.00 452.67C482.67 452.66 483.33 452.66 484.00 452.64C484.67 452.62 485.33 452.56 486.00 452.55C486.67 452.54 487.33 452.58 488.00 452.57C488.67 452.57 489.33 452.52 490.00 452.53C490.67 452.55 491.33 452.64 492.00 452.65C492.67 452.67 493.33 452.61 494.00 452.61C494.67 452.61 495.33 452.66 496.00 452.66C496.67 452.65 497.33 452.58 498.00 452.57C498.67 452.55 499.33 452.53 500.00 452.54C500.67 452.56 501.33 452.64 502.00 452.66C502.67 452.69 503.33 452.70 504.00 452.70C504.67 452.70 505.33 452.68 506.00 452.67C506.67 452.66 507.33 452.66 508.00 452.66C508.67 452.66 509.33 452.67 510.00 452.66C510.67 452.66 511.33 452.67 512.00 452.65C512.67 452.63 513.33 452.55 514.00 452.55C514.67 452.54 515.43 452.61 516.00 452.60C516.57 452.60 517.17 452.52 517.40 452.50" stroke="#1A78CA" stroke-width="1.35"/>
<path class="ln" d="M20.50 452.20C21.25 452.27 23.33 452.52 25.00 452.60C26.67 452.68 29.23 452.87 30.50 452.70C31.77 452.53 31.95 452.12 32.60 451.60C33.25 451.08 33.87 450.53 34.40 449.60C34.93 448.67 35.38 447.27 35.80 446.00C36.22 444.73 36.58 443.27 36.90 442.00C37.22 440.73 37.45 439.33 37.70 438.40C37.95 437.47 38.17 436.42 38.40 436.40C38.63 436.38 38.83 437.37 39.10 438.30C39.37 439.23 39.68 440.98 40.00 442.00C40.32 443.02 40.67 443.77 41.00 444.40C41.33 445.03 41.53 445.37 42.00 445.80C42.47 446.23 43.17 446.70 43.80 447.00C44.43 447.30 45.47 447.50 45.80 447.60L46.40 447.39L47.45 447.71L48.50 447.59L49.55 447.84L50.60 447.91L51.65 447.42L52.70 447.41L53.75 448.18L54.80 447.50L55.85 447.35L56.90 447.98L57.95 447.34L59.00 447.58L60.05 447.09L61.10 447.14L62.15 446.51L63.20 446.89L64.25 446.99L65.30 446.49L66.35 446.57L67.40 446.35L68.45 445.55L69.50 446.15L70.55 445.82L71.60 445.36L72.65 444.91L73.70 445.69L74.75 445.10L75.80 445.23L76.85 445.27L77.90 444.95L78.95 445.05L80.00 444.30L81.05 444.63L82.10 444.07L83.15 444.52L84.20 444.31L85.25 443.23L86.30 443.13L87.35 443.09L88.40 443.87L89.45 443.06L90.50 443.12L91.55 442.54L92.60 442.62L93.65 442.29L94.70 442.06L95.75 442.19L96.80 442.01L97.85 442.26L98.90 441.87L99.95 442.32L101.00 442.34L102.05 442.64L103.10 442.33L104.15 441.75L105.20 442.82L106.25 443.03L107.30 442.93L108.35 442.44L109.40 442.62L110.45 441.89L111.50 442.74L112.55 442.35L113.60 441.91L114.65 441.56L115.70 442.63L116.75 442.76L117.80 441.36L118.85 442.34L119.90 441.69L120.95 441.22L122.00 441.36L123.05 442.01L124.10 442.09L125.15 440.75L126.20 441.55L127.25 440.60L128.30 441.59L129.35 440.92L130.40 441.73L131.45 441.83L132.50 441.02L133.55 441.75L134.60 440.59L135.65 440.16L136.70 440.94L137.75 439.96L138.80 440.17L139.85 440.46L140.90 440.69L141.95 439.83L143.00 439.52L144.05 440.80L145.10 439.76L146.15 440.75L147.20 440.53L148.25 439.54L149.30 439.57L150.35 439.57L151.40 439.67L152.45 439.48L153.50 439.31L154.55 439.31L155.60 439.77L156.65 438.82L157.70 438.51L158.75 438.86L159.80 437.81L160.85 437.75L161.90 438.81L162.95 437.81L164.00 437.68L165.05 436.52L166.10 437.09L167.15 437.22L168.20 436.00L169.25 436.94L170.30 436.80L171.35 435.54L172.40 436.45L173.45 435.97L174.50 436.20L175.55 435.40L176.60 435.91L177.65 435.80L178.70 434.23L179.75 434.12L180.80 435.16L181.85 435.59L182.90 434.02L183.95 434.28L185.00 434.41L186.05 433.71L187.10 433.65L188.15 433.39L189.20 433.36L190.25 433.68L191.30 432.92L192.35 432.93L193.40 433.60L194.45 431.90L195.50 432.88L196.55 433.09L197.60 432.04L198.65 431.71L199.70 432.79L200.75 431.44L201.80 431.18L202.85 431.56L203.90 431.98L204.95 430.54L206.00 430.87L207.05 430.75L208.10 431.72L209.15 430.72L210.20 431.51L211.25 429.85L212.30 430.09L213.35 430.66L214.40 431.06L215.45 429.95L216.50 429.31L217.55 428.93L218.60 429.73L219.65 428.82L220.70 430.10L221.75 430.05L222.80 428.40L223.85 428.49L224.90 429.59L225.95 429.07L227.00 429.32L228.05 428.11L229.10 427.46L230.15 427.71L231.20 428.78L232.25 427.41L233.30 427.49L234.35 427.56L235.40 427.47L236.45 427.34L237.50 428.49L238.55 426.53L239.60 426.05L240.65 428.26L241.70 428.01L242.75 428.17L243.80 426.71L244.85 427.89L245.90 427.74L246.95 425.88L248.00 427.09L249.05 427.22L250.10 426.69L251.15 426.23L252.20 425.55L253.25 425.58L254.30 425.20L255.35 424.70L256.40 425.91L257.45 425.05L258.50 426.21L259.55 424.16L260.60 426.17L261.65 425.50L262.70 425.94L263.75 425.73L264.80 425.60L265.85 424.65L266.90 423.10L267.95 424.79L269.00 423.21L270.05 423.39L271.10 424.19L272.15 423.74L273.20 423.35L274.25 424.56L275.30 423.63L276.35 422.85L277.40 422.52L278.45 423.93L279.50 422.86L280.55 423.52L281.60 422.33L282.65 421.84L283.70 422.57L284.75 423.17L285.80 421.44L286.85 422.85L287.90 423.04L288.95 422.61L290.00 422.52L291.05 420.34L292.10 421.76L293.15 422.20L294.20 420.03L295.25 420.45L296.30 420.31L297.35 420.82L298.40 420.42L299.45 420.40L300.50 421.04L301.55 418.98L302.60 419.00L303.65 419.07L304.70 418.95L305.75 418.69L306.80 420.84L307.85 420.42L308.90 418.39L309.95 419.31L311.00 418.73L312.05 418.61L313.10 418.59L314.15 419.21L315.20 418.95L316.25 418.27L317.30 417.73L318.35 417.97L319.40 417.45L320.45 418.51L321.50 418.90L322.55 418.05L323.60 417.29L324.65 417.53L325.70 418.00L326.75 418.57L327.80 419.00L328.85 417.98L329.90 419.02L330.95 418.57L332.00 418.08L333.05 417.92L334.10 418.22L335.15 418.72L336.20 418.00L337.25 418.62L338.30 417.96L339.35 417.33L340.40 417.98L341.45 418.30L342.50 416.66L343.55 417.46L344.60 417.38L345.65 418.43L346.70 418.49L347.75 417.01L348.80 418.24L349.85 417.89L350.90 416.48L351.95 416.91L353.00 415.97L354.05 417.62L355.10 417.18L356.15 417.70L357.20 417.43L358.25 417.07L359.30 417.20L360.35 416.73L361.40 415.54L362.45 416.71L363.50 415.22L364.55 415.52L365.60 417.06L366.65 415.19L367.70 415.27L368.75 415.25L369.80 417.16L370.85 415.37L371.90 414.94L372.95 416.96L374.00 415.17L375.05 416.99L376.10 416.57L377.15 416.99L378.20 417.29L379.25 416.37L380.30 416.93L381.35 415.04L382.40 416.88L383.45 416.25L384.50 416.77L385.55 415.26L386.60 416.88L387.65 417.35L388.70 415.18L389.75 415.85L390.80 416.46L391.85 417.15L392.90 415.72L393.95 415.60L395.00 415.81L396.05 416.76L397.10 417.14L398.15 416.27L399.20 416.24L400.25 416.33L401.30 416.16L402.35 416.27L403.40 415.38L404.45 416.37L405.50 417.49L406.55 416.04L407.60 416.82L408.65 415.30L409.70 416.57L410.75 416.68L411.80 416.42L412.85 415.97L413.90 415.83L414.95 416.17L416.00 416.76L417.05 414.83L418.10 414.64L419.15 416.22L420.20 416.66L421.25 415.69L422.30 415.52L423.35 416.24L424.40 414.92L425.45 415.15L426.50 415.00L427.55 415.99L428.60 415.33L429.65 415.15L430.70 416.32L431.75 417.00L432.80 415.37L433.85 416.43L434.90 415.77L435.95 416.95L437.00 416.34L438.05 415.62L439.10 415.57L440.15 415.16L441.20 416.37L442.25 416.20L443.30 415.75L444.35 416.29L445.40 416.26L446.45 417.47L447.50 415.96L448.55 418.15L449.60 416.93L450.65 417.28L451.70 417.01L452.75 417.99L453.80 418.01L454.85 417.41L455.90 417.28L456.95 417.93L458.00 418.33L459.05 417.25L460.10 418.14L461.15 418.77L462.20 417.59L463.25 417.05L464.30 417.10L465.35 418.35L466.40 418.29L467.45 419.04L468.50 418.82L469.55 417.34L470.60 417.25L471.65 417.46L472.70 417.33L473.75 418.67L474.80 419.09L475.85 419.24L476.90 417.67L477.95 419.25L479.00 417.94L480.05 418.28L481.10 419.11L482.15 417.57L483.20 417.65L484.25 419.57L485.30 418.28L486.35 418.50L487.40 419.13L488.45 419.43L489.50 417.82L490.55 418.71L491.60 419.03L492.65 419.24L493.70 418.64L494.75 419.68L495.80 420.69L496.85 419.38L497.90 419.85L498.95 418.88L500.00 419.37L501.05 420.44L502.10 419.15L503.15 421.18L504.20 421.33L505.25 419.39L506.30 421.59L507.35 420.26L508.40 421.34L509.45 421.39L510.50 420.32L511.55 421.36L512.60 421.39L513.65 421.86L514.70 420.59L515.75 421.90L516.80 422.50L517.40 421.40" stroke="#ED7D31" stroke-width="1.35"/>
<path d="M33.65 242.30h10.60l-5.30 9.90z" fill="#4472C4"/>
<path d="M63.30 370.00h9.80l-4.90 10.20z" fill="#4472C4"/>
<path d="M80.60 370.00h9.80l-4.90 10.20z" fill="#4472C4"/>
<path d="M96.90 370.00h9.80l-4.90 10.20z" fill="#4472C4"/>
<path d="M452.5 308.9H468.8" stroke="#1A78CA" stroke-width="1.5" fill="none"/>
<path d="M452.5 320.15H468.8" stroke="#ED7D31" stroke-width="1.3" fill="none"/>
<text x="475.7" y="311" font-size="8.7" textLength="15" lengthAdjust="spacingAndGlyphs">TiO<tspan font-size="5.2" dy="1.6">2</tspan></text>
<text x="475.7" y="321.7" font-size="8.7" textLength="38.3" lengthAdjust="spacingAndGlyphs">TiO<tspan font-size="5.2" dy="1.6">2</tspan><tspan dy="-1.6"> −ZnO</tspan></text>
<path d="M454.40 337.90h11.80l-5.90 10.30z" fill="#4472C4"/>
<text x="475.7" y="344.9" font-size="8.5" textLength="38.8" lengthAdjust="spacingAndGlyphs">Peaks TiO<tspan font-size="5.2" dy="1.6">2</tspan></text>
</g>
<text class="cap" x="278.7" y="511.2" font-size="11.4" text-anchor="middle">(<tspan font-weight="bold">b</tspan>)</text>
</svg></body></html>
